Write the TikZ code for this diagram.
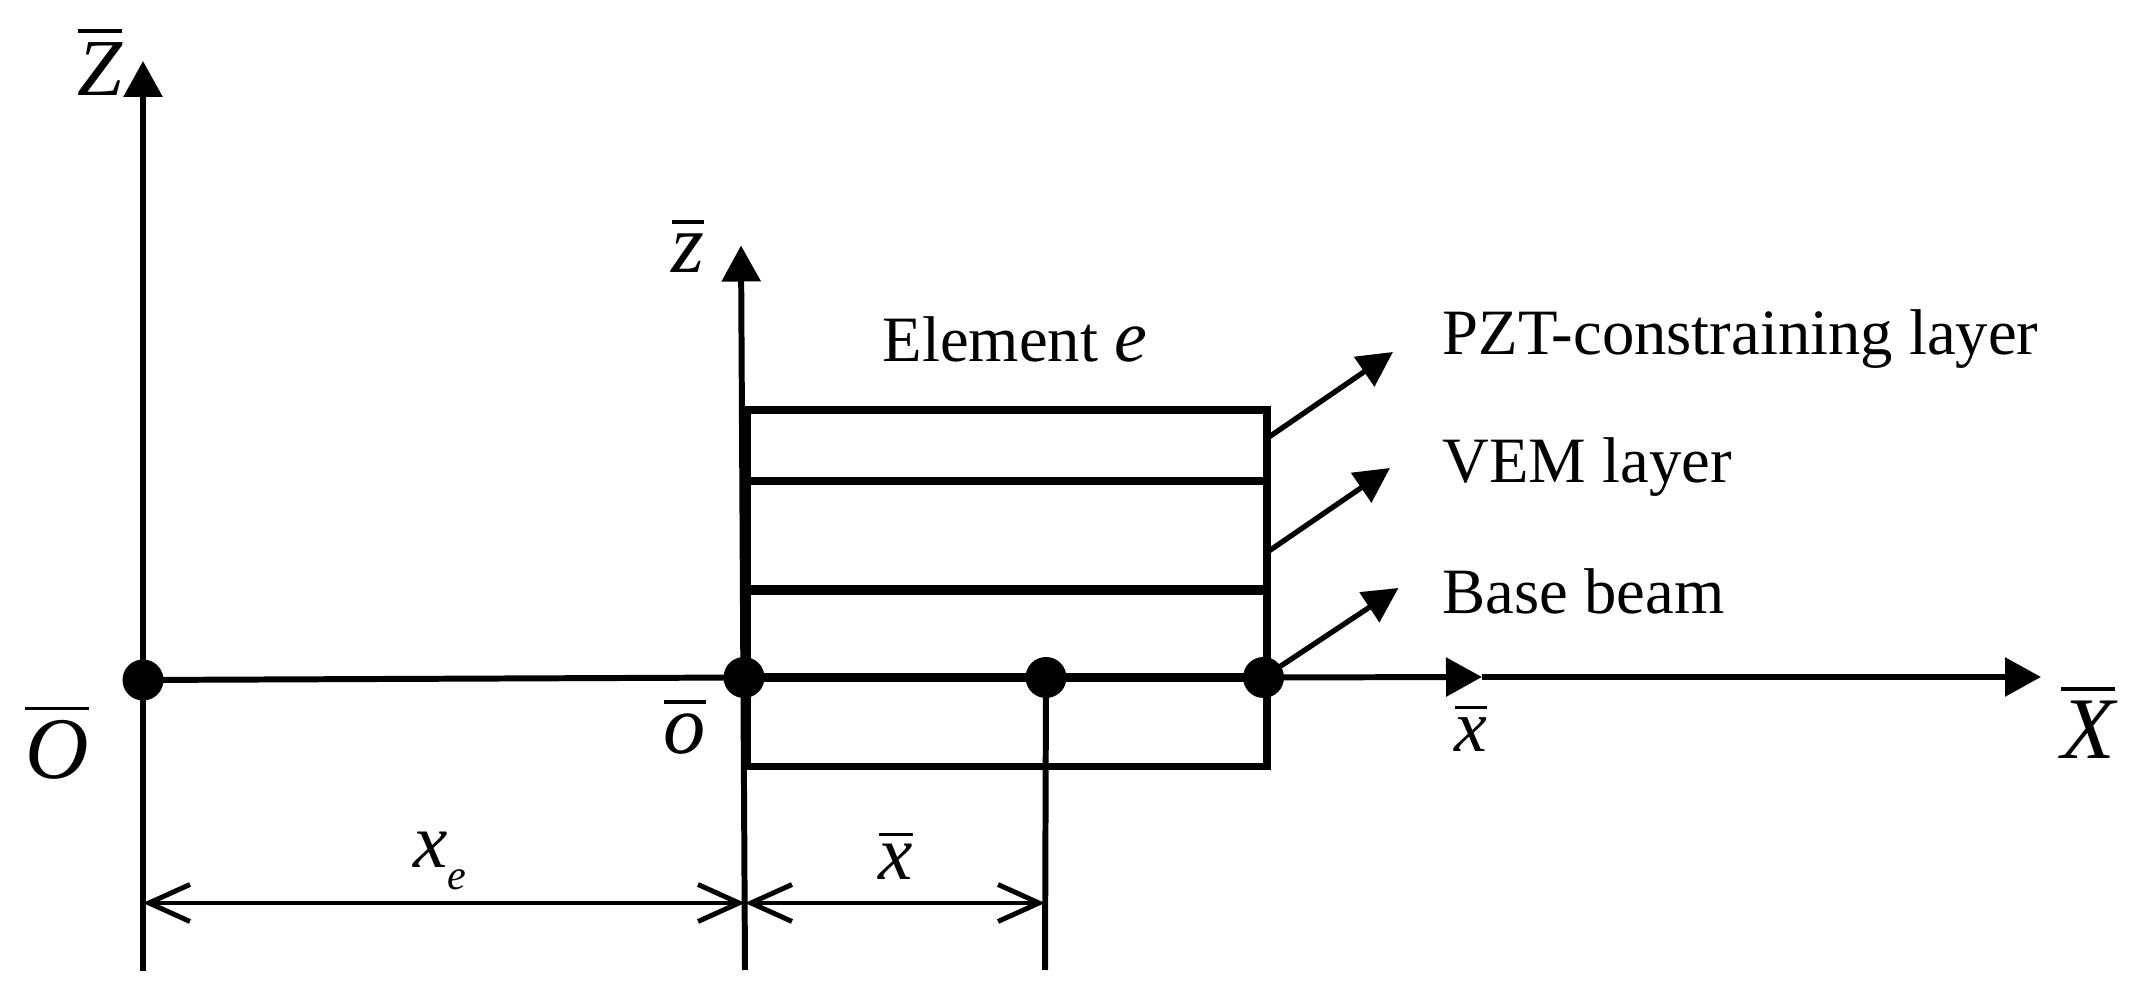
\documentclass[tikz,border=0pt]{standalone}
\usepackage{amsmath}
\usepackage{fontspec}
\setmainfont{Liberation Serif}
\usetikzlibrary{arrows.meta}
\newcommand{\barred}[1]{$\overline{\textit{#1}}$}
\tikzset{
  axisline/.style={line width=1.7pt},
  layerline/.style={line width=2pt},
  thickline/.style={line width=2.9pt},
  solidhead/.style={-{Triangle[length=0.36cm,width=0.38cm]}},
  leader/.style={line width=1.5pt,-{Triangle[length=0.35cm,width=0.35cm]}},
  dimline/.style={line width=1.4pt,{Straight Barb[length=0.41cm,width=0.37cm]}-{Straight Barb[length=0.41cm,width=0.37cm]}},
  dot/.style={circle,fill=black,inner sep=0pt,outer sep=0pt,minimum size=0.41cm},
  txt/.style={inner sep=0pt,anchor=base west,font=\fontsize{18.4}{20}\selectfont},
  sym/.style={inner sep=0pt,anchor=base,font=\fontsize{#1}{26}\selectfont},
}
\begin{document}
\begin{tikzpicture}
\useasboundingbox (0,0) rectangle (21.44,9.93);

\coordinate (Ztop) at (1.43,9.32);
\coordinate (Zbot) at (1.43,0.22);
\coordinate (ztop) at (7.41,7.475);
\coordinate (zbot) at (7.45,0.23);
\coordinate (Xtip) at (20.41,3.16);
\coordinate (xtip) at (14.82,3.16);
\coordinate (mbot) at (10.45,0.23);
\coordinate (ra) at (7.47,5.83);
\coordinate (rb) at (12.67,5.83);
\coordinate (rc) at (12.67,2.265);
\coordinate (rd) at (7.47,2.265);
\coordinate (la) at (7.47,5.12);
\coordinate (lb) at (12.67,5.12);
\coordinate (lc) at (7.47,4.03);
\coordinate (ld) at (12.67,4.03);
\coordinate (pa) at (12.69,5.56);
\coordinate (pb) at (13.93,6.41);
\coordinate (va) at (12.66,4.40);
\coordinate (vb) at (13.90,5.25);
\coordinate (ba) at (13.985,4.05);
\coordinate (dl) at (1.43,0.90);
\coordinate (dm) at (7.45,0.90);
\coordinate (dr) at (10.45,0.90);

% element
\draw[layerline] (ra) -- (rb) -- (rc) -- (rd) -- cycle;
\draw[layerline] (la) -- (lb);
\draw[thickline] (lc) -- (ld);

% axes
\draw[axisline,solidhead] (Zbot) -- (Ztop);
\draw[axisline,solidhead] (zbot) -- (ztop);

\node[dot] (O) at (1.43,3.13) {};
\node[dot] (o) at (7.44,3.155) {};
\node[dot] (m) at (10.46,3.155) {};
\node[dot] (r) at (12.635,3.155) {};

\draw[axisline] (O.center) -- (o.center);
\draw[layerline,line width=2.4pt] (o.center) -- (m.center);
\draw[layerline,line width=2.4pt] (m.center) -- (r.center);
\draw[axisline,solidhead] (r.center) -- (xtip);
\draw[axisline,solidhead] (xtip) -- (Xtip);
\draw[axisline] (m.center) -- (mbot);

% leaders
\draw[leader] (pa) -- (pb);
\draw[leader] (va) -- (vb);
\draw[leader] (r.center) -- (ba);

% dimensions
\draw[dimline] (dl) -- (dm);
\draw[dimline] (dm) -- (dr);

% labels
\node[sym=23] (lZ) at (1.0,8.97) {\barred{Z}};
\node[sym=25] (lO) at (0.57,2.14) {\barred{O}};
\node[sym=24] (lz) at (6.88,7.20) {\barred{z}};
\node[sym=24] (lo) at (6.85,2.39) {\barred{o}};
\node[sym=21] (lx) at (14.71,2.41) {\barred{x}};
\node[sym=25] (lX) at (20.88,2.34) {\barred{X}};
\node[sym=22] (lxb) at (8.96,1.13) {\barred{x}};
\node[sym=22] (lxe) at (4.40,1.25) {\textit{x}\raisebox{-0.6ex}{\fontsize{12}{14}\selectfont\textit{e}}};

\node[txt] (lE) at (8.82,6.31) {Element \fontsize{21}{20}\selectfont\textit{e}};
\node[txt] (lP) at (14.42,6.38) {PZT-constraining layer};
\node[txt] (lV) at (14.42,5.10) {VEM layer};
\node[txt] (lB) at (14.42,3.79) {Base beam};
\end{tikzpicture}
\end{document}
